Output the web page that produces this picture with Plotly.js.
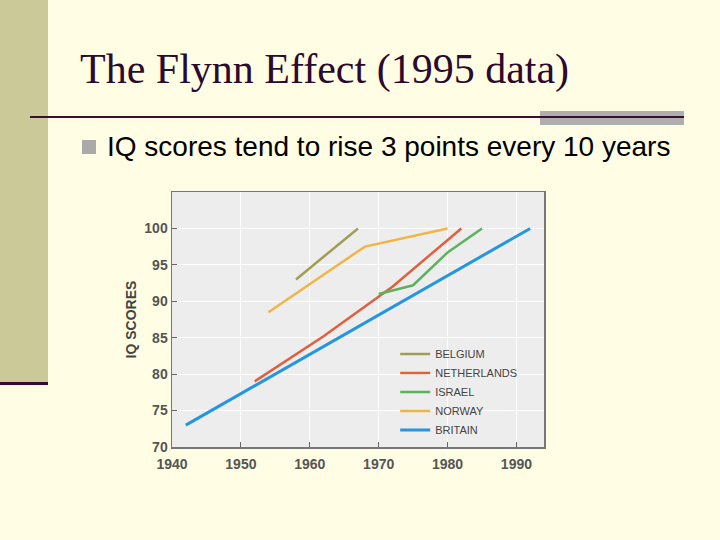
<!DOCTYPE html>
<html>
<head>
<meta charset="utf-8">
<script src="https://cdn.plot.ly/plotly-3.0.1.min.js"></script>
<style>
    body { margin: 0; background: #FFFDE3; }
    #slide { position: relative; width: 720px; height: 540px; overflow: hidden; background: #FFFDE3; }
    .deco { position: absolute; }
    #strip { left: 0; top: 0; width: 48px; height: 382px; background: #CCC999; }
    #stripLine { left: 0; top: 382px; width: 48px; height: 3px; background: #3A0A34; }
    #grayBar { left: 540px; top: 111px; width: 144px; height: 14px; background: #AEAEAE; }
    #titleLine { left: 30px; top: 116px; width: 654px; height: 2px; background: #3A1030; }
    #title { left: 80px; top: 48px; font: 42px/42px "Liberation Serif", "Times New Roman", serif; color: #2A0A2E; white-space: nowrap; }
    #bulletBox { left: 82px; top: 140px; width: 14px; height: 14px; background: #AAAAAA; }
    #bulletText { left: 107px; top: 133px; font: 28px/28px "Liberation Sans", Arial, sans-serif; color: #000; white-space: nowrap; }
    #chart { position: absolute; left: 0; top: 0; width: 720px; height: 540px; }
</style>
</head>
<body>
<div id="slide">
    <div class="deco" id="strip"></div>
    <div class="deco" id="stripLine"></div>
    <div class="deco" id="grayBar"></div>
    <div class="deco" id="titleLine"></div>
    <div class="deco" id="title">The Flynn Effect (1995 data)</div>
    <div class="deco" id="bulletBox"></div>
    <div class="deco" id="bulletText">IQ scores tend to rise 3 points every 10 years</div>
    <div id="chart"></div>
</div>
<script>
// values
const belgiumYears = [1958, 1967]
const belgiumIQ = [93, 100]

const netherlandsYears = [1952, 1962, 1972, 1982]
const netherlandsIQ = [79, 85.2, 92, 100]

const israelYears = [1970, 1975, 1980, 1985]
const israelIQ = [91, 92.2, 96.7, 100]

const norwayYears = [1954, 1968, 1980]
const norwayIQ = [88.5, 97.5, 100]

const britainYears = [1942, 1992]
const britainIQ = [73, 100]

const countryNames = ['BELGIUM', 'NETHERLANDS', 'ISRAEL', 'NORWAY', 'BRITAIN']
const countryColors = ['#A39C55', '#E0603C', '#5DB35D', '#F2B544', '#2496E0']

const xTicks = [1940, 1950, 1960, 1970, 1980, 1990]
const yTicks = [70, 75, 80, 85, 90, 95, 100]


let series = [
    [belgiumYears, belgiumIQ],
    [netherlandsYears, netherlandsIQ],
    [israelYears, israelIQ],
    [norwayYears, norwayIQ],
    [britainYears, britainIQ],
]

let traces = series.map((s, i) => {
    return {
        x: s[0],
        y: s[1],
        mode: 'lines',
        name: countryNames[i],
        line: {color: countryColors[i], width: i == 4 ? 3 : 2.5},
        hoverinfo: 'skip'
    }
})

let tickFont = {family: 'Liberation Sans, Arial, sans-serif', size: 14, color: '#555555', weight: 'bold'}

let layout = {
    width: 720,
    height: 540,
    margin: {l: 172, r: 176, t: 192, b: 93, pad: 0},
    paper_bgcolor: 'rgba(0,0,0,0)',
    plot_bgcolor: '#EDEDED',
    showlegend: true,
    legend: {
        x: 0.6,
        y: 0.2157,
        xanchor: 'left',
        yanchor: 'middle',
        bgcolor: 'rgba(0,0,0,0)',
        font: {family: 'Liberation Sans, Arial, sans-serif', size: 11, color: '#444444'}
    },
    xaxis: {
        range: [1940, 1994],
        tickvals: xTicks,
        ticktext: xTicks.map(String),
        ticks: 'inside',
        ticklen: 5,
        tickcolor: '#666666',
        ticklabelstandoff: 4,
        showline: true,
        mirror: true,
        linecolor: '#777777',
        linewidth: 1.5,
        showgrid: true,
        gridcolor: '#FFFFFF',
        zeroline: false,
        tickfont: tickFont
    },
    yaxis: {
        range: [70, 105],
        tickvals: yTicks,
        ticktext: yTicks.map(String),
        ticks: 'inside',
        ticklen: 5,
        tickcolor: '#666666',
        showline: true,
        mirror: true,
        linecolor: '#777777',
        linewidth: 1.5,
        showgrid: true,
        gridcolor: '#FFFFFF',
        zeroline: false,
        tickfont: tickFont,
        title: {
            text: 'IQ SCORES',
            standoff: 4,
            font: {family: 'Liberation Sans, Arial, sans-serif', size: 14, color: '#444444', weight: 'bold'}
        }
    }
}

Plotly.newPlot('chart', traces, layout, {displayModeBar: false, staticPlot: true})
</script>
</body>
</html>
